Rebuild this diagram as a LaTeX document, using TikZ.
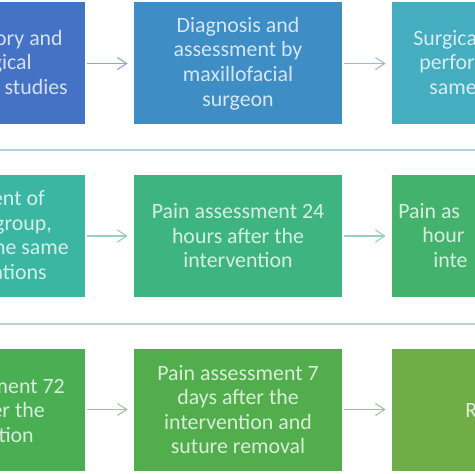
\documentclass[tikz,border=0pt]{standalone}
\usepackage{fontspec}
\setmainfont{Carlito}
\usetikzlibrary{arrows.meta}

\definecolor{boxAa}{HTML}{4472C4}
\definecolor{boxAb}{HTML}{3E8DC5}
\definecolor{boxAc}{HTML}{44ADBF}
\definecolor{boxBa}{HTML}{3BB6A2}
\definecolor{boxBb}{HTML}{3EB581}
\definecolor{boxBc}{HTML}{42B26C}
\definecolor{boxCa}{HTML}{4AAE52}
\definecolor{boxCb}{HTML}{52AD4C}
\definecolor{boxCc}{HTML}{70AD47}
\definecolor{linkA}{HTML}{8DA2D8}
\definecolor{linkB}{HTML}{9CB8D3}
\definecolor{linkC}{HTML}{97D0C2}
\definecolor{linkD}{HTML}{A6BEA6}
\definecolor{sepA}{HTML}{AAD5DE}
\definecolor{sepB}{HTML}{BCD5C3}

\begin{document}
\begin{tikzpicture}[x=0.75pt,y=-0.75pt,
	box/.style={minimum width=156pt,minimum height=91.5pt,inner sep=0pt},
	txt/.style={font=\fontsize{16.4}{18.4}\selectfont,align=center,inner sep=0pt},
	link/.style={-{Straight Barb[length=7pt,width=9pt]},line width=0.8pt,shorten <=1.5pt,shorten >=4.5pt},
	sep/.style={line width=1.4pt}]
\useasboundingbox (0,0) rectangle (474,474);

% boxes
\node[box,fill=boxAa] (history) at (-19,63.5) {};
\node[box,fill=boxAb,txt,text=boxAb!22!white] (diagnosis) at (238,63.5) {Diagnosis and\\assessment by\\maxillofacial\\surgeon};
\node[box,fill=boxAc] (surgery) at (496,63.5) {};

\node[box,fill=boxBa] (compare) at (-19,236) {};
\node[box,fill=boxBb,txt,text=boxBb!22!white] (painA) at (238,236) {Pain assessment 24\\hours after the\\intervention};
\node[box,fill=boxBc] (painB) at (496,236) {};

\node[box,fill=boxCa] (painC) at (-19,409.5) {};
\node[box,fill=boxCb,txt,text=boxCb!22!white] (painD) at (238,409.5) {Pain assessment 7\\days after the\\intervention and\\suture removal};
\node[box,fill=boxCc] (results) at (496,409.5) {};

% text cut by the edges
\node[txt,anchor=base east,text=boxAa!22!white] (historyA) at (63,45.25) {ory and};
\node[txt,anchor=base east,text=boxAa!22!white] (historyB) at (32,69.75) {gical};
\node[txt,anchor=base east,text=boxAa!22!white] (historyC) at (68,94.25) {studies};

\node[txt,anchor=base west,text=boxAc!22!white] (surgeryA) at (413,45.25) {Surgica};
\node[txt,anchor=base west,text=boxAc!22!white] (surgeryB) at (419,69.75) {perfor};
\node[txt,anchor=base west,text=boxAc!22!white] (surgeryC) at (429,94.25) {same};

\node[txt,anchor=base east,text=boxBa!22!white] (compareA) at (45,205.5) {ent of};
\node[txt,anchor=base east,text=boxBa!22!white] (compareB) at (52,230) {group,};
\node[txt,anchor=base east,text=boxBa!22!white] (compareC) at (69,254.5) {ne same};
\node[txt,anchor=base east,text=boxBa!22!white] (compareD) at (47,279) {ations};

\node[txt,anchor=base west,text=boxBc!22!white] (painBa) at (398,218) {Pain as};
\node[txt,anchor=base west,text=boxBc!22!white] (painBb) at (422,242.5) {hour};
\node[txt,anchor=base west,text=boxBc!22!white] (painBc) at (433,267) {inte};

\node[txt,anchor=base east,text=boxCa!22!white] (painCa) at (65,393) {ment 72};
\node[txt,anchor=base east,text=boxCa!22!white] (painCb) at (45,417.5) {er the};
\node[txt,anchor=base east,text=boxCa!22!white] (painCc) at (34,442) {tion};

\node[txt,anchor=base west,text=boxCc!22!white] (resultsA) at (465,417) {R};

% arrows
\draw[link,linkA] (history) -- (diagnosis);
\draw[link,linkB] (diagnosis) -- (surgery);
\draw[link,linkC] (compare) -- (painA);
\draw[link,linkC] (painA) -- (painB);
\draw[link,linkD] (painC) -- (painD);
\draw[link,linkD] (painD) -- (results);

% row changes
\draw[sep,sepA] (surgery.south) -- ++(0,25.5) -| (compare.north);
\draw[sep,sepB] (painB.south) -- ++(0,27) -| (painC.north);

\end{tikzpicture}
\end{document}
